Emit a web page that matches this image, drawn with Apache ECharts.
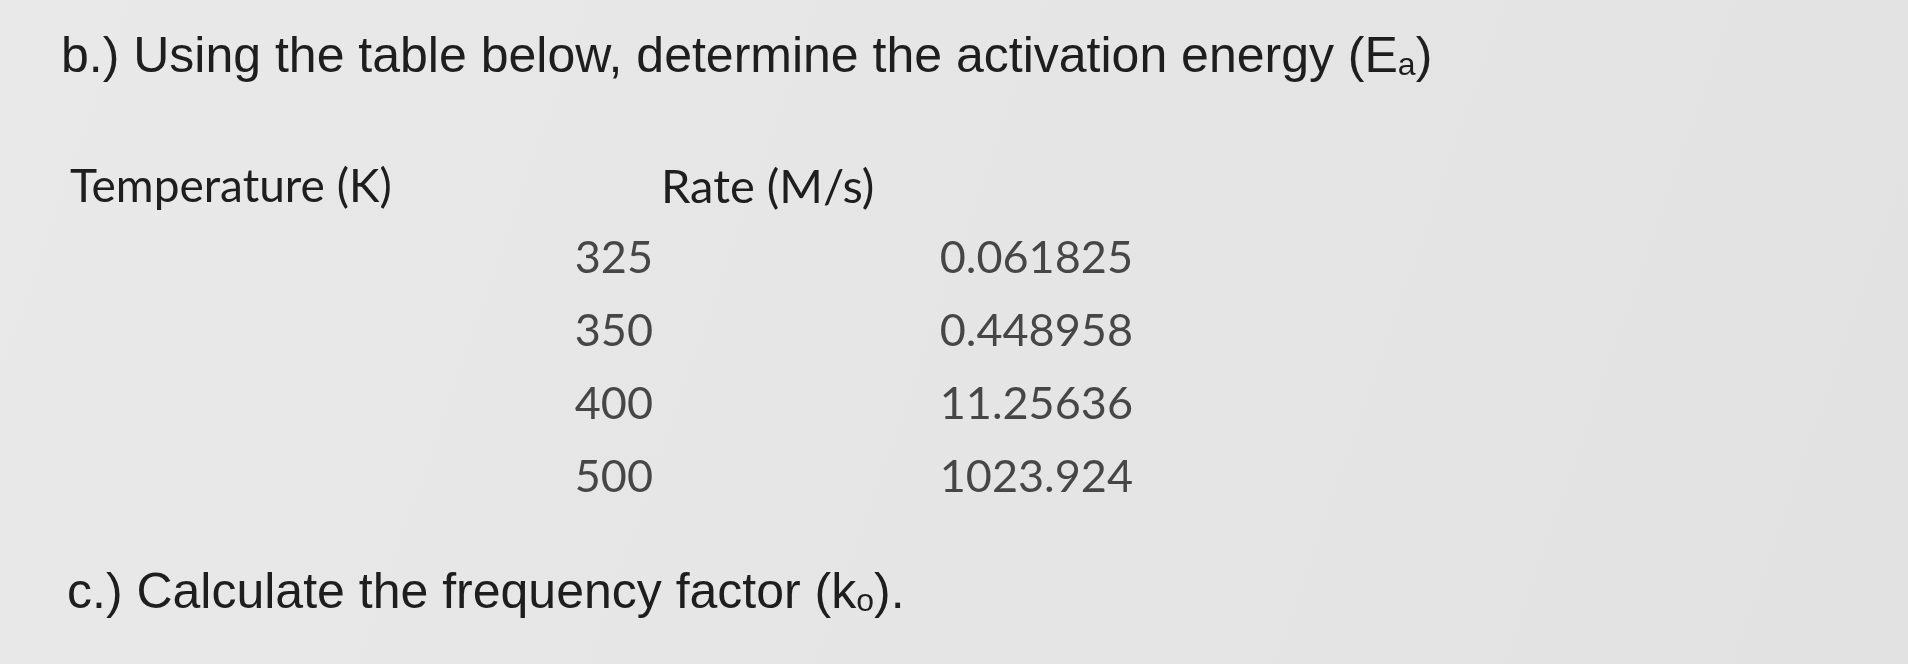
<!DOCTYPE html>
<html><head><meta charset="utf-8">
<script src="https://cdn.jsdelivr.net/npm/echarts@6/dist/echarts.min.js"></script>
<style>html,body{margin:0;padding:0;background:#e6e6e6}#c{width:1908px;height:664px}</style>
</head><body><div id="c"></div>
<script>
const columns = ['Temperature (K)', 'Rate (M/s)'];
const temperatures = ['325', '350', '400', '500'];
const rates = ['0.061825', '0.448958', '11.25636', '1023.924'];
const rows = ['r1', 'r2', 'r3', 'r4'];

const chart = echarts.init(document.getElementById('c'));
const cellData = [];
temperatures.forEach((t, i) => cellData.push({ value: [columns[0], rows[i]], txt: t }));
rates.forEach((r, i) => cellData.push({ value: [columns[1], rows[i]], txt: r }));
const txtColor = '#1e1e1e';
chart.setOption({
  backgroundColor: {
    type: 'linear', x: 0, y: 0, x2: 1, y2: 1,
    colorStops: [{ offset: 0, color: '#e9e9e9' }, { offset: 1, color: '#e2e2e2' }]
  },
  grid: { left: 400, width: 960, top: 222, height: 292 },
  xAxis: { type: 'category', data: columns, show: false },
  yAxis: { type: 'category', data: rows, inverse: true, show: false },
  series: [{
    type: 'scatter', symbolSize: 0, data: cellData, silent: true,
    label: {
      show: true, position: 'inside', align: 'right', offset: [13, 0],
      fontFamily: 'Lato', fontSize: 45, color: txtColor, textBorderWidth: 0,
      formatter: p => p.data.txt
    }
  }],
  graphic: [
    { type: 'text', left: 61, top: 33, style: {
      text: 'b.) Using the table below, determine the activation energy (E{s|a})',
      font: '50px "Liberation Sans"', fill: txtColor,
      rich: { s: { fontSize: 32, fontFamily: 'Liberation Sans', fill: txtColor, padding: [17, 0, 0, 0] } } } },
    { type: 'text', left: 70, top: 164, style: { text: columns[0], font: '46px Lato', fill: txtColor } },
    { type: 'text', left: 661, top: 164, style: { text: columns[1], font: '47px Lato', fill: txtColor } },
    { type: 'text', left: 67, top: 569, style: {
      text: 'c.) Calculate the frequency factor (k{s|o}).',
      font: '50px "Liberation Sans"', fill: txtColor,
      rich: { s: { fontSize: 32, fontFamily: 'Liberation Sans', fill: txtColor, padding: [17, 0, 0, 0] } } } }
  ]
});
</script></body></html>
